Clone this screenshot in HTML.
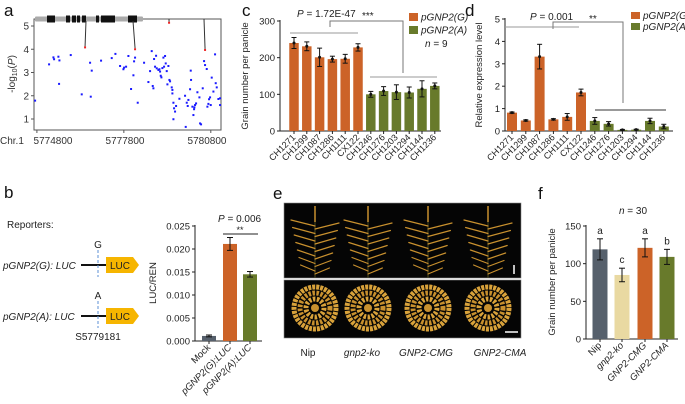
<!DOCTYPE html>
<html><head><meta charset="utf-8"><style>
body{margin:0;background:#fff}
svg{display:block;font-family:"Liberation Sans",Arial,sans-serif}
</style></head><body>
<svg id="fig" width="685" height="404" viewBox="0 0 685 404" xmlns="http://www.w3.org/2000/svg">
<g font-size="17" fill="#111">
<text x="4" y="16">a</text>
<text x="4" y="198">b</text>
<text x="242" y="16">c</text>
<text x="465" y="16">d</text>
<text x="273" y="199">e</text>
<text x="538" y="199">f</text>
</g>
<g id="pa"></g>
<g id="pb"></g>
<g id="pc"></g>
<g id="pd"></g>
<g id="pe"></g>
<g id="pf"></g>
</svg>
<script>
// ---------- data ----------
const aPos = [5774738,5775220,5775370,5775393,5775542,5775577,5775565,5775968,5776347,5776635,5776692,5776658,5777014,5777382,5777509,5777670,5777785,5777808,5777877,5777957,5778049,5778130,5778153,5778187,5778279,5778498,5778647,5778705,5778762,5778797,5778820,5778843,5778877,5778912,5778935,5778992,5779027,5779050,5779073,5779096,5779130,5779165,5779188,5779222,5779245,5779280,5779303,5779337,5779372,5779395,5779452,5779475,5779475,5779510,5779510,5779533,5779567,5779602,5779717,5779912,5779935,5779970,5780004,5780027,5780085,5780108,5780119,5780165,5780200,5780223,5780234,5780257,5780292,5780338,5780407,5780430,5780464,5780522,5780568,5780602,5780660,5780683,5780717,5780740,5780775,5780798,5780832,5780890,5780947,5780970,5781005,5781062,5781120,5781120];
const aLogP = [1.79,3.35,3.65,3.57,3.68,3.52,2.51,3.75,2.06,3.42,3.08,1.96,3.51,3.62,3.80,3.28,3.14,3.21,3.25,3.71,2.29,2.88,3.48,3.64,1.70,3.42,2.59,3.06,3.92,2.42,2.32,3.58,3.25,3.72,3.18,3.11,3.14,3.04,2.86,2.79,3.19,3.64,3.25,3.71,3.39,3.06,2.49,3.28,2.68,2.62,2.36,2.25,2.10,1.70,0.99,1.46,1.32,1.56,1.87,2.00,0.66,1.70,1.56,1.82,2.28,3.08,2.68,1.53,1.17,1.42,1.50,1.60,1.67,2.15,1.93,0.81,0.77,2.32,3.49,3.32,3.15,1.53,1.65,1.85,1.93,1.60,2.78,2.18,3.78,2.54,2.36,1.86,1.89,1.60];
const aLeadPos = [5776462,5778187,5779360,5780602];
const aLeadLogP = [4.08,4.00,5.14,3.97];
const aYTicks = [1,2,3,4,5];
const aXTicks = [5774800,5777800,5780800];

const bCats = ["Mock","pGNP2(G):LUC","pGNP2(A):LUC"];
const bVals = [0.0011,0.0211,0.0145];
const bErr = [0.0002,0.0014,0.0006];
const bTicks = ["0.000","0.005","0.010","0.015","0.020","0.025"];

const cCats = ["CH1271","CH1299","CH1087","CH1286","CH1111","CX122","CH1246","CH1276","CH1203","CH1294","CH1144","CH1236"];
const cVals = [240,231,201,196,197,228,100,109,106,105,115,123];
const cErr = [15,12,25,8,12,10,8,12,20,15,22,8];
const cGroup = ["G","G","G","G","G","G","A","A","A","A","A","A"];
const cTicks = [0,100,200,300];

const dCats = ["CH1271","CH1299","CH1087","CH1286","CH1111","CX122","CH1246","CH1276","CH1203","CH1294","CH1144","CH1236"];
const dVals = [0.82,0.47,3.32,0.52,0.63,1.72,0.45,0.32,0.05,0.06,0.45,0.20];
const dErr = [0.03,0.03,0.55,0.03,0.15,0.15,0.15,0.10,0.02,0.02,0.12,0.10];
const dGroup = ["G","G","G","G","G","G","A","A","A","A","A","A"];
const dTicks = [0,1,2,3,4,5];

const fCats = ["Nip","gnp2-ko","GNP2-CMG","GNP2-CMA"];
const fVals = [119,85,121,109];
const fErr = [14,9,12,10];
const fLetters = ["a","c","a","b"];
const fTicks = [0,50,100,150];

const eLabels = ["Nip","gnp2-ko","GNP2-CMG","GNP2-CMA"];

// ---------- helpers ----------
const NS="http://www.w3.org/2000/svg";
function mk(parent,tag,attrs,txt){const e=document.createElementNS(NS,tag);for(const k in attrs)e.setAttribute(k,attrs[k]);if(txt!==undefined)e.textContent=txt;parent.appendChild(e);return e;}
const OR="#CC6328", GR="#687A2B", GY="#56606C", BE="#E9D9A2";
function lin(d0,d1,r0,r1){return v=>r0+(v-d0)/(d1-d0)*(r1-r0);}

// ---------- panel a ----------
(function(){
 const g=document.getElementById('pa');
 const x=lin(5774700,5781152,34,221), y=lin(1,5,119,26);
 let e=mk(g,'rect',{x:34,y:19,width:187,height:111,fill:'none',stroke:'#555','stroke-width':1});
 
 e=mk(g,'rect',{x:35,y:16.5,width:108,height:5,fill:'#aaa',rx:1});
 
 [[47,55],[66,70],[72,76],[77,80],[82,86],[96,99],[101,115],[128,133],[133,137]].forEach(p=>{
  const r=mk(g,'rect',{x:p[0],y:15.5,width:p[1]-p[0],height:7,fill:'#111'});
  });
 [[86,21,0],[133,21,1],[169,19,2],[204,19,3]].forEach(p=>{
  mk(g,'line',{x1:p[0],y1:p[1],x2:x(aLeadPos[p[2]]),y2:y(aLeadLogP[p[2]])-1,stroke:'#333','stroke-width':1});});
 aPos.forEach((p,i)=>{const c=mk(g,'rect',{x:x(p)-1,y:y(aLogP[i])-1,width:2,height:2,fill:'#1a1aff'});
  });
 aLeadPos.forEach((p,i)=>{const c=mk(g,'rect',{x:x(p)-1,y:y(aLeadLogP[i])-1,width:2,height:2,fill:'#e22'});
  });
 aYTicks.forEach(t=>{mk(g,'line',{x1:31,x2:34,y1:y(t),y2:y(t),stroke:'#555'});
  const tx=mk(g,'text',{x:29,y:y(t)+3.5,'font-size':10,'text-anchor':'end',fill:'#333'},t);
  });
 aXTicks.forEach((t,i)=>{mk(g,'line',{x1:x(t),x2:x(t),y1:130,y2:133,stroke:'#555'});
  const tx=mk(g,'text',{x:[53,125,207][i],y:144,'font-size':10,'text-anchor':'middle',fill:'#333'},t);
  });
 let t=mk(g,'text',{x:0,y:144,'font-size':10,fill:'#333'},'Chr.1');
 
 t=mk(g,'text',{transform:'translate(15,74) rotate(-90)','font-size':10,'text-anchor':'middle',fill:'#333'});
 
 t.innerHTML='-log<tspan font-size="7" dy="2">10</tspan><tspan dy="-2">(</tspan><tspan font-style="italic">P</tspan>)';
})();

// ---------- panel b ----------
(function(){
 const g=document.getElementById('pb');
 let t=mk(g,'text',{x:7,y:228,'font-size':10,fill:'#222'},'Reporters:');
 
 [[265,'G','pGNP2(G): LUC'],[316,'A','pGNP2(A): LUC']].forEach(r=>{
  const yy=r[0];
  t=mk(g,'text',{x:3,y:yy+4,'font-size':10,'font-style':'italic',fill:'#222'},r[2]);
  
  mk(g,'line',{x1:81,x2:107,y1:yy,y2:yy,stroke:'#111','stroke-width':2});
  mk(g,'line',{x1:98,x2:98,y1:yy-15,y2:yy+12,stroke:'#5b8fd6','stroke-width':1,'stroke-dasharray':'3,2'});
  t=mk(g,'text',{x:98,y:yy-17,'font-size':10,'text-anchor':'middle',fill:'#222'},r[1]);
  
  const p=mk(g,'polygon',{points:`106,${yy-8} 133,${yy-8} 139,${yy} 133,${yy+8} 106,${yy+8}`,fill:'#F6B500'});
  
  t=mk(g,'text',{x:120,y:yy+4,'font-size':10,'text-anchor':'middle',fill:'#222'},'LUC');
 });
 t=mk(g,'text',{x:98,y:340,'font-size':10,'text-anchor':'middle',fill:'#222'},'S5779181');
 
 const y=lin(0,0.025,341,226), cx=[209,230,250], cols=[GY,OR,GR];
 mk(g,'line',{x1:195,x2:195,y1:225,y2:341,stroke:'#222'});
 mk(g,'line',{x1:195,x2:262,y1:341,y2:341,stroke:'#222'});
 bTicks.forEach(s=>{const v=parseFloat(s);mk(g,'line',{x1:192,x2:195,y1:y(v),y2:y(v),stroke:'#222'});
  const tx=mk(g,'text',{x:190,y:y(v)+3.5,'font-size':9.5,'text-anchor':'end',fill:'#222'},s);
  });
 t=mk(g,'text',{transform:'translate(156,283) rotate(-90)','font-size':9.5,'text-anchor':'middle',fill:'#222'},'LUC/REN');
 
 bVals.forEach((v,i)=>{const b=mk(g,'rect',{x:cx[i]-7,y:y(v),width:14,height:341-y(v),fill:cols[i]});
  
  mk(g,'line',{x1:cx[i],x2:cx[i],y1:y(v+bErr[i]),y2:y(v-bErr[i]),stroke:'#111'});
  [v+bErr[i],v-bErr[i]].forEach(w=>mk(g,'line',{x1:cx[i]-3,x2:cx[i]+3,y1:y(w),y2:y(w),stroke:'#111'}));
  mk(g,'line',{x1:cx[i],x2:cx[i],y1:341,y2:344,stroke:'#222'});
  const tx=mk(g,'text',{x:cx[i]+2,y:348,'font-size':9.5,'text-anchor':'end',transform:`rotate(-45,${cx[i]+2},348)`,'font-style':i?'italic':'normal',fill:'#222'},bCats[i]);
  });
 mk(g,'line',{x1:223,x2:258,y1:234,y2:234,stroke:'#222'});
 t=mk(g,'text',{x:218,y:222,'font-size':10,fill:'#222'});t.innerHTML='<tspan font-style="italic">P</tspan> = 0.006';
 
 mk(g,'text',{x:240,y:233,'font-size':9,'text-anchor':'middle',fill:'#222'},'**');
})();

// ---------- generic grouped bar chart (c,d) ----------
function barChart(gid,cats,vals,errs,groups,ticks,opt){
 const g=document.getElementById(gid);
 const y=lin(0,ticks[ticks.length-1],opt.y0,opt.y1);
 const x=i=>opt.x0+i*opt.step;
 mk(g,'line',{x1:opt.ax,x2:opt.ax,y1:opt.y1-1,y2:opt.y0,stroke:'#222'});
 mk(g,'line',{x1:opt.ax,x2:opt.axEnd,y1:opt.y0,y2:opt.y0,stroke:'#222'});
 ticks.forEach(v=>{mk(g,'line',{x1:opt.ax-3,x2:opt.ax,y1:y(v),y2:y(v),stroke:'#222'});
  const tx=mk(g,'text',{x:opt.ax-5,y:y(v)+3.5,'font-size':9.5,'text-anchor':'end',fill:'#222'},v);
  });
 vals.forEach((v,i)=>{const c=x(i);
  const b=mk(g,'rect',{x:c-opt.bw/2,y:y(v),width:opt.bw,height:opt.y0-y(v),fill:groups[i]==='G'?OR:GR});
  
  mk(g,'line',{x1:c,x2:c,y1:y(v+errs[i]),y2:y(Math.max(0,v-errs[i])),stroke:'#111'});
  [v+errs[i],Math.max(0,v-errs[i])].forEach(w=>mk(g,'line',{x1:c-2.5,x2:c+2.5,y1:y(w),y2:y(w),stroke:'#111'}));
  mk(g,'circle',{cx:c,cy:y(v),r:1.5,fill:'#111'});
  mk(g,'line',{x1:c,x2:c,y1:opt.y0,y2:opt.y0+3,stroke:'#222'});
  const tx=mk(g,'text',{x:c+2,y:opt.y0+7,'font-size':9,'text-anchor':'end',transform:`rotate(-45,${c+2},${opt.y0+7})`,fill:'#222'},cats[i]);
  });
 let t=mk(g,'text',{transform:`translate(${opt.titleX},${(opt.y0+opt.y1)/2}) rotate(-90)`,'font-size':9.5,'text-anchor':'middle',fill:'#222'},opt.title);
 
 return {g,y,x};
}
(function(){
 const r=barChart('pc',cCats,cVals,cErr,cGroup,cTicks,{x0:294,step:12.8,bw:9.5,ax:280,axEnd:441,y0:131,y1:21,titleX:248,title:'Grain number per panicle'});
 const g=r.g;
 mk(g,'line',{x1:290,x2:358,y1:33,y2:33,stroke:'#999'});
 mk(g,'polyline',{points:'330,27 330,21 403,21 403,73',fill:'none',stroke:'#777'});
 mk(g,'line',{x1:370,x2:437,y1:77,y2:77,stroke:'#999'});
 let t=mk(g,'text',{x:297,y:17,'font-size':10,fill:'#222'});t.innerHTML='<tspan font-style="italic">P</tspan> = 1.72E-47';
 
 mk(g,'text',{x:362,y:19,'font-size':10,fill:'#222'},'***');
 [[13,OR,'pGNP2(G)'],[26,GR,'pGNP2(A)']].forEach(l=>{
  const s=mk(g,'rect',{x:409,y:l[0],width:9,height:8,fill:l[1]});
  const tx=mk(g,'text',{x:421,y:l[0]+7.5,'font-size':10,'font-style':'italic',fill:'#222'},l[2]);});
 t=mk(g,'text',{x:425,y:47,'font-size':10,fill:'#222'});t.innerHTML='<tspan font-style="italic">n</tspan> = 9';
})();
(function(){
 const r=barChart('pd',dCats,dVals,dErr,dGroup,dTicks,{x0:512,step:13.8,bw:10,ax:505,axEnd:673,y0:131,y1:19,titleX:482,title:'Relative expression level'});
 const g=r.g;
 mk(g,'line',{x1:505,x2:579,y1:27,y2:27,stroke:'#999'});
 mk(g,'polyline',{points:'553,29 553,22 623,22 623,103',fill:'none',stroke:'#777'});
 mk(g,'line',{x1:595,x2:666,y1:110,y2:110,stroke:'#333'});
 let t=mk(g,'text',{x:530,y:20,'font-size':10,fill:'#222'});t.innerHTML='<tspan font-style="italic">P</tspan> = 0.001';
 
 mk(g,'text',{x:589,y:22,'font-size':10,fill:'#222'},'**');
 [[12,OR,'pGNP2(G)'],[23,GR,'pGNP2(A)']].forEach(l=>{
  const s=mk(g,'rect',{x:631,y:l[0],width:9,height:7,fill:l[1]});
  const tx=mk(g,'text',{x:643,y:l[0]+7,'font-size':10,'font-style':'italic',fill:'#222'},l[2]);});
})();

// ---------- panel e ----------
(function(){
 const g=document.getElementById('pe');
 let r=mk(g,'rect',{x:284,y:203,width:237,height:75,fill:'#050505',stroke:'#888','stroke-width':0.6});
 
 r=mk(g,'rect',{x:284,y:280,width:237,height:58,fill:'#050505',stroke:'#888','stroke-width':0.6});
 
 const cxs=[315,368,428,488];
 cxs.forEach((c,k)=>{
  mk(g,'line',{x1:c,x2:c,y1:206,y2:278,stroke:'#4a4a20','stroke-width':1});
  for(let j=0;j<7;j++){const yy=220+j*7.5, L=24-j*1.6;
   mk(g,'line',{x1:c,y1:yy+6,x2:c-L,y2:yy,stroke:'#c8902e','stroke-width':1.2,'stroke-linecap':'round'});
   mk(g,'line',{x1:c,y1:yy+9,x2:c+L,y2:yy+3,stroke:'#c8902e','stroke-width':1.2,'stroke-linecap':'round'});}
  mk(g,'line',{x1:c,x2:c,y1:206,y2:222,stroke:'#c8902e','stroke-width':1.5});
  const ci=mk(g,'circle',{cx:c,cy:308,r:21,fill:'none',stroke:'#d9a23a','stroke-width':5,'stroke-dasharray':'3,1'});
  
  mk(g,'circle',{cx:c,cy:308,r:15,fill:'none',stroke:'#c8902e','stroke-width':5,'stroke-dasharray':'2.5,1.5'});
  mk(g,'circle',{cx:c,cy:308,r:9,fill:'none',stroke:'#d9a23a','stroke-width':5,'stroke-dasharray':'2.5,1.5'});
  mk(g,'circle',{cx:c,cy:308,r:4,fill:'#c8902e'});
 });
 mk(g,'line',{x1:514,x2:514,y1:265,y2:274,stroke:'#fff','stroke-width':1.5});
 mk(g,'line',{x1:505,x2:518,y1:332,y2:332,stroke:'#fff','stroke-width':1.5});
 const lx=[308,362,426,500];
 eLabels.forEach((s,i)=>{const t=mk(g,'text',{x:lx[i],y:356,'font-size':10,'text-anchor':'middle','font-style':i?'italic':'normal',fill:'#222'},s);
  });
})();

// ---------- panel f ----------
(function(){
 const g=document.getElementById('pf');
 const y=lin(0,150,339,226), cx=[600,622,645,667], cols=[GY,BE,OR,GR];
 mk(g,'line',{x1:586,x2:586,y1:225,y2:339,stroke:'#222'});
 mk(g,'line',{x1:586,x2:678,y1:339,y2:339,stroke:'#222'});
 fTicks.forEach(v=>{mk(g,'line',{x1:583,x2:586,y1:y(v),y2:y(v),stroke:'#222'});
  const tx=mk(g,'text',{x:581,y:y(v)+3.5,'font-size':9.5,'text-anchor':'end',fill:'#222'},v);
  });
 let t=mk(g,'text',{transform:'translate(555,282) rotate(-90)','font-size':9.5,'text-anchor':'middle',fill:'#222'},'Grain number per panicle');
 
 fVals.forEach((v,i)=>{const c=cx[i];
  const b=mk(g,'rect',{x:c-7.5,y:y(v),width:15,height:339-y(v),fill:cols[i]});
  
  mk(g,'line',{x1:c,x2:c,y1:y(v+fErr[i]),y2:y(v-fErr[i]),stroke:'#111'});
  [v+fErr[i],v-fErr[i]].forEach(w=>mk(g,'line',{x1:c-3,x2:c+3,y1:y(w),y2:y(w),stroke:'#111'}));
  const l=mk(g,'text',{x:c,y:y(v+fErr[i])-5,'font-size':10,'text-anchor':'middle',fill:'#222'},fLetters[i]);
  
  mk(g,'line',{x1:c,x2:c,y1:339,y2:342,stroke:'#222'});
  const tx=mk(g,'text',{x:c+2,y:346,'font-size':9.5,'text-anchor':'end',transform:`rotate(-45,${c+2},346)`,'font-style':i?'italic':'normal',fill:'#222'},fCats[i]);
  });
 t=mk(g,'text',{x:633,y:214,'font-size':10,'text-anchor':'middle',fill:'#222'});t.innerHTML='<tspan font-style="italic">n</tspan> = 30';
 
})();
</script>
</body></html>
